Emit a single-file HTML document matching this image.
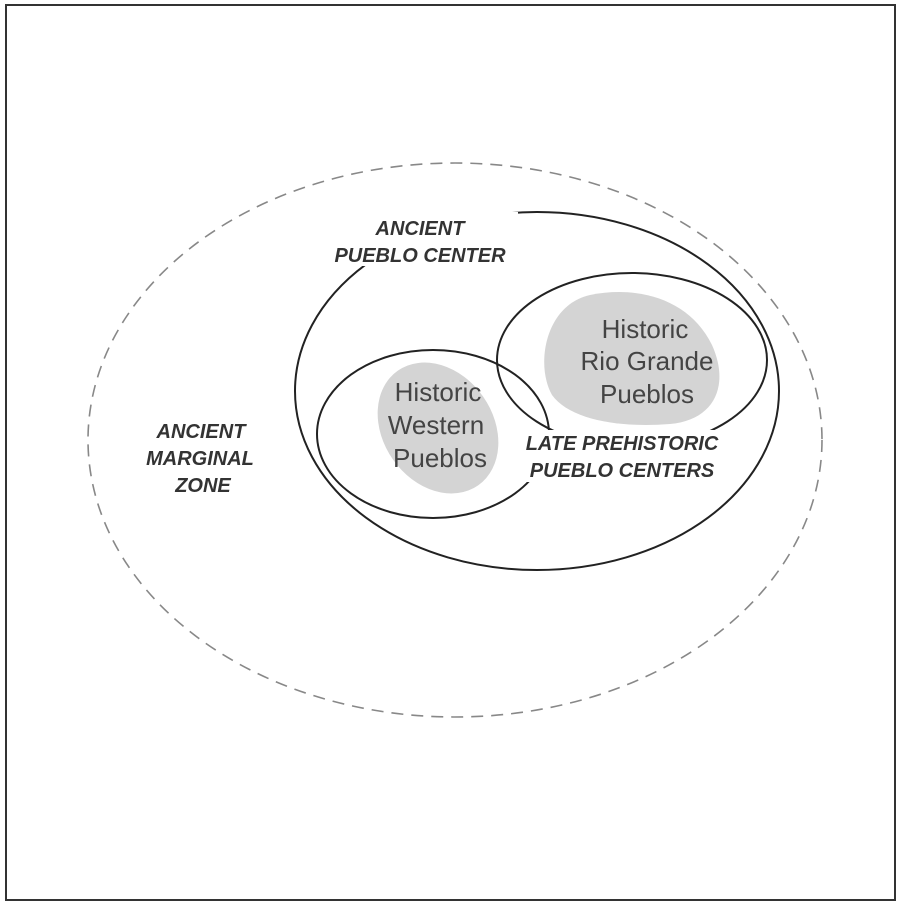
<!DOCTYPE html>
<html><head><meta charset="utf-8"><style>
html,body{margin:0;padding:0;background:#fff;}
svg{display:block;}
.l{font-family:"Liberation Sans",sans-serif;font-weight:bold;font-style:italic;font-size:20px;fill:#333;text-anchor:middle;}
.h{font-family:"Liberation Sans",sans-serif;font-size:26px;fill:#444;text-anchor:middle;}
</style></head><body>
<svg width="900" height="906" viewBox="0 0 900 906">
<rect x="0" y="0" width="900" height="906" fill="#fff"/>
<rect x="6" y="5" width="889" height="895" fill="none" stroke="#333" stroke-width="2"/>
<ellipse cx="455" cy="440" rx="367" ry="277" fill="none" stroke="#888" stroke-width="1.6" stroke-dasharray="12,8"/>
<path d="M590,295 C640,285 690,300 712,345 C730,385 715,420 670,424 C620,428 570,420 552,395 C535,365 545,305 590,295 Z" fill="#d4d4d4"/>
<ellipse cx="438" cy="428" rx="55" ry="70" transform="rotate(-35 438 428)" fill="#d4d4d4"/>
<ellipse cx="537" cy="391" rx="242" ry="179" fill="none" stroke="#222" stroke-width="2"/>
<ellipse cx="632" cy="360" rx="135" ry="87" fill="none" stroke="#222" stroke-width="2"/>
<ellipse cx="433" cy="434" rx="116" ry="84" fill="none" stroke="#222" stroke-width="2"/>
<rect x="322" y="212" width="196" height="54" fill="#fff"/>
<rect x="512" y="430" width="220" height="52" fill="#fff"/>
<text class="l" x="420" y="235">ANCIENT</text>
<text class="l" x="420" y="262">PUEBLO CENTER</text>
<text class="l" x="622" y="450">LATE PREHISTORIC</text>
<text class="l" x="622" y="477">PUEBLO CENTERS</text>
<text class="l" x="201" y="438">ANCIENT</text>
<text class="l" x="200" y="465">MARGINAL</text>
<text class="l" x="203" y="492">ZONE</text>
<text class="h" x="645" y="338">Historic</text>
<text class="h" x="647" y="370">Rio Grande</text>
<text class="h" x="647" y="403">Pueblos</text>
<text class="h" x="438" y="401">Historic</text>
<text class="h" x="436" y="434">Western</text>
<text class="h" x="440" y="467">Pueblos</text>
</svg>
</body></html>
